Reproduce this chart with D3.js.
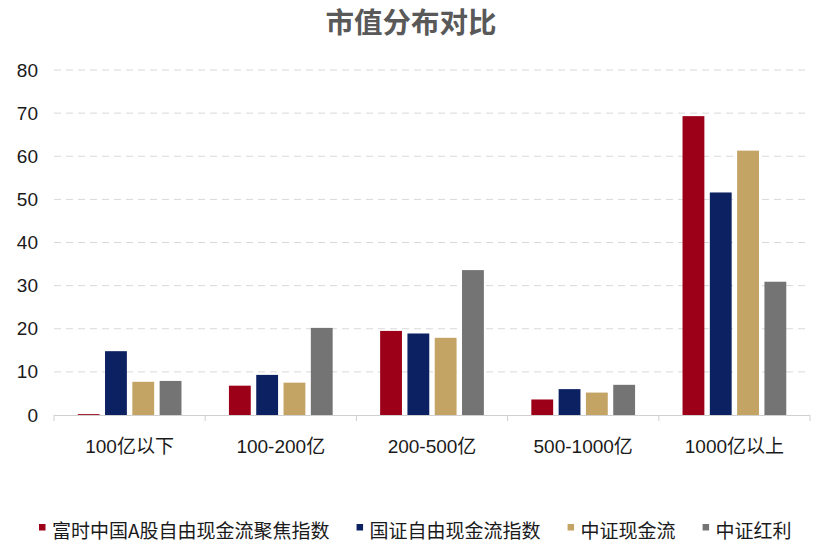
<!DOCTYPE html>
<html><head><meta charset="utf-8">
<script src="https://cdn.jsdelivr.net/npm/d3@7"></script>
<style>body{margin:0;background:#fff}</style>
</head><body>
<svg id="chart" width="819" height="548"></svg>
<script>
const title = "市值分布对比";
const categories = ["100亿以下","100-200亿","200-500亿","500-1000亿","1000亿以上"];
const seriesNames = ["富时中国A股自由现金流聚焦指数","国证自由现金流指数","中证现金流","中证红利"];
const seriesColors = ["#9c0018","#0b2162","#c4a465","#747474"];
const ftseValues = [0.2, 6.8, 19.5, 3.6, 69.3];
const cnValues   = [14.8, 9.3, 18.9, 6.0, 51.6];
const csiCfValues = [7.7, 7.5, 17.9, 5.2, 61.3];
const csiDivValues = [7.9, 20.2, 33.6, 7.0, 30.9];
const yTicks = [0,10,20,30,40,50,60,70,80];

const seriesValues = [ftseValues, cnValues, csiCfValues, csiDivValues];

const svg = d3.select("#chart");
const plotLeft = 54, plotRight = 810, plotTop = 70, plotBottom = 415;

const x = d3.scaleBand().domain(categories).range([plotLeft, plotRight]).padding(0);
const xi = d3.scaleBand().domain(seriesNames).range([-54.6, 54.6]).paddingInner(0.2).paddingOuter(0.1);
const y = d3.scaleLinear().domain([0, 80]).range([plotBottom, plotTop]);

// title
svg.append("text").attr("x", 411).attr("y", 33)
  .attr("text-anchor","middle")
  .attr("font-family","'Noto Sans CJK SC'").attr("font-weight","bold")
  .attr("font-size", 28.5).attr("fill","#595959").text(title);

// gridlines
svg.append("g").selectAll("line").data(yTicks.filter(d => d > 0)).join("line")
  .attr("x1", plotLeft).attr("x2", plotRight)
  .attr("y1", d => y(d)).attr("y2", d => y(d))
  .attr("stroke","#d9d9d9").attr("stroke-width",1).attr("stroke-dasharray","7,5");

// y axis labels
const yAxis = d3.axisLeft(y).tickValues(yTicks).tickSize(0).tickPadding(0);
const gy = svg.append("g").attr("transform", `translate(${plotLeft - 16},0)`).call(yAxis);
gy.select(".domain").remove();
gy.selectAll("text").attr("font-family","'Liberation Sans', Arial, sans-serif")
  .attr("font-size",19).attr("fill","#1a1a1a");

// bars
const groups = svg.append("g").selectAll("g").data(seriesValues).join("g")
  .attr("fill", (d,i) => seriesColors[i]);
groups.each(function(vals, si) {
  d3.select(this).selectAll("rect").data(vals).join("rect")
    .attr("x", (v, ci) => x(categories[ci]) + x.bandwidth()/2 + xi(seriesNames[si]))
    .attr("width", xi.bandwidth())
    .attr("y", v => y(v))
    .attr("height", v => y(0) - y(v));
});

// x axis
const xAxisLine = svg.append("g");
xAxisLine.append("line").attr("x1", plotLeft).attr("x2", plotRight).attr("y1", plotBottom + 0.5).attr("y2", plotBottom + 0.5)
  .attr("stroke","#d0d0d0").attr("stroke-width",1);
const boundaries = categories.map(c => x(c)).concat([plotRight]);
xAxisLine.selectAll("line.tk").data(boundaries).join("line").attr("class","tk")
  .attr("x1", d => d).attr("x2", d => d).attr("y1", plotBottom).attr("y2", plotBottom + 6)
  .attr("stroke","#d0d0d0").attr("stroke-width",1);
svg.append("g").selectAll("text").data(categories).join("text")
  .attr("x", d => x(d) + x.bandwidth()/2).attr("y", 446)
  .attr("text-anchor","middle").attr("dominant-baseline","central")
  .attr("font-family","'Liberation Sans', Arial, 'Noto Sans CJK SC'")
  .attr("font-size",19).attr("fill","#1a1a1a").text(d => d);

// legend
const lg = svg.append("g");
let lx = 39;
seriesNames.forEach((name, i) => {
  lg.append("rect").attr("x", lx).attr("y", 524).attr("width", 6.5).attr("height", 6.5).attr("fill", seriesColors[i]);
  const t = lg.append("text").attr("x", lx + 13).attr("y", 529)
    .attr("dominant-baseline","central")
    .attr("font-family","'Noto Sans CJK SC'").attr("font-size",19).attr("fill","#1a1a1a").text(name);
  lx = lx + 13 + t.node().getComputedTextLength() + 27;
});
</script>
</body></html>
